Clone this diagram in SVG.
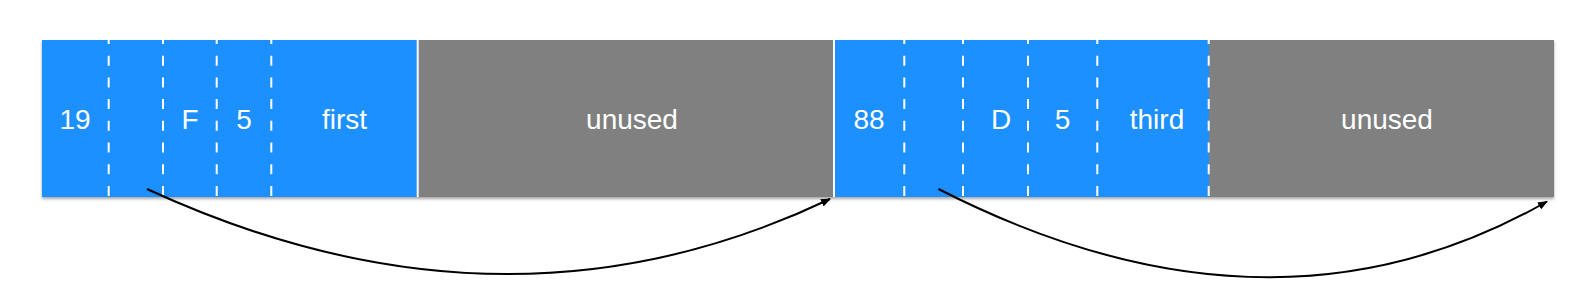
<svg xmlns="http://www.w3.org/2000/svg" width="1590" height="302" viewBox="0 0 1590 302">
  <style>
    .blue { fill: #1E90FF; }
    .gray { fill: #808080; }
    .lbl { font-family: "Liberation Sans", Arial, Helvetica, sans-serif; font-size: 28px; fill: #ffffff; text-anchor: middle; dominant-baseline: central; }
    .dash { stroke: #ffffff; stroke-width: 2; stroke-dasharray: 10 11.7; stroke-dashoffset: 6; fill: none; }
    .sep { stroke: #ffffff; stroke-width: 2; fill: none; }
    .conn { stroke: #000000; stroke-width: 2; fill: none; }
  </style>
  <defs>
    <filter id="sh" x="-2%" y="-10%" width="104%" height="125%">
      <feDropShadow dx="0" dy="2" stdDeviation="1.5" flood-color="#000000" flood-opacity="0.35"/>
    </filter>
    <marker id="arr" viewBox="0 0 10 8" refX="9" refY="4" markerWidth="10" markerHeight="8" markerUnits="userSpaceOnUse" orient="auto">
      <path d="M0,0 L10,4 L0,8 Z" fill="#000000"/>
    </marker>
  </defs>

  <g id="bar" filter="url(#sh)">
    <rect x="42" y="40" width="376" height="157" class="blue"/>
    <rect x="418" y="40" width="416" height="157" class="gray"/>
    <rect x="834" y="40" width="375" height="157" class="blue"/>
    <rect x="1209" y="40" width="345" height="157" class="gray"/>
  </g>

  <g id="separators">
    <line x1="108.7" y1="40" x2="108.7" y2="197" class="dash"/>
    <line x1="163" y1="40" x2="163" y2="197" class="dash"/>
    <line x1="216.7" y1="40" x2="216.7" y2="197" class="dash"/>
    <line x1="271.3" y1="40" x2="271.3" y2="197" class="dash"/>
    <line x1="417.7" y1="40" x2="417.7" y2="197" class="sep"/>
    <line x1="834" y1="40" x2="834" y2="197" class="sep"/>
    <line x1="904.3" y1="40" x2="904.3" y2="197" class="dash"/>
    <line x1="963" y1="40" x2="963" y2="197" class="dash"/>
    <line x1="1028" y1="40" x2="1028" y2="197" class="dash"/>
    <line x1="1097.3" y1="40" x2="1097.3" y2="197" class="dash"/>
    <line x1="1208.7" y1="40" x2="1208.7" y2="197" class="dash"/>
  </g>

  <g id="n19"><text x="75" y="119" class="lbl">19</text></g>
  <g id="nF"><text x="190" y="119" class="lbl">F</text></g>
  <g id="n5a"><text x="244" y="119" class="lbl">5</text></g>
  <g id="nfirst"><text x="344.5" y="119" class="lbl">first</text></g>
  <g id="nunused1"><text x="632" y="119" class="lbl">unused</text></g>
  <g id="n88"><text x="869" y="119" class="lbl">88</text></g>
  <g id="nD"><text x="1001" y="119" class="lbl">D</text></g>
  <g id="n5b"><text x="1062.5" y="119" class="lbl">5</text></g>
  <g id="nthird"><text x="1157" y="119" class="lbl">third</text></g>
  <g id="nunused2"><text x="1387" y="119" class="lbl">unused</text></g>

  <g id="connectors">
    <path d="M147,189 Q505,354 830,199" class="conn" marker-end="url(#arr)"/>
    <path d="M938.5,189 Q1271,359 1547,201.5" class="conn" marker-end="url(#arr)"/>
  </g>
</svg>
